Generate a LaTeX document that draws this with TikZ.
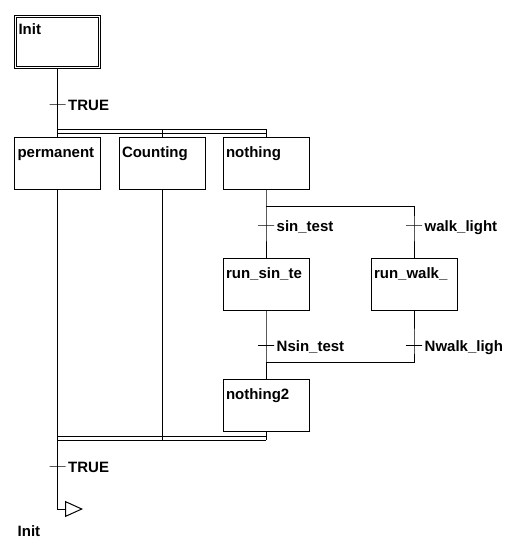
\documentclass[tikz,border=0pt]{standalone}
\usepackage{fontspec}
\setmainfont{Liberation Sans}
\usetikzlibrary{arrows.meta}
\newcommand{\sfcfont}{\fontsize{15}{18}\selectfont\bfseries}
\tikzstyle{sfcstep}=[
    rectangle,
    draw=black,
    line width=1pt,
    inner xsep=3pt,
    inner ysep=0pt,
    text width=80pt,
    align=left,
    text height=19.5pt,
    text depth=32.5pt,
    font=\sfcfont]
\tikzstyle{initstep}=[
    sfcstep,
    double,
    double distance=1pt,
    text width=78pt,
    text height=17.5pt,
    text depth=33.5pt]
\tikzstyle{trans}=[
    rectangle,
    draw=black,
    line width=1pt,
    minimum width=16pt,
    minimum height=0pt,
    inner sep=0pt]
\tikzstyle{translabel}=[
    anchor=base west,
    inner sep=0pt,
    xshift=2pt,
    yshift=-6pt,
    font=\sfcfont]
\tikzstyle{link}=[draw=black, line width=1pt]

\begin{document}
\begin{tikzpicture}[x=1pt,y=-1pt]
\useasboundingbox (0,0) rectangle (527,555);

%Shape: Steps
\node[initstep] (init) at (57.5,42.4) {Init};
\node[sfcstep] (perm) at (57.5,163.5) {permanent};
\node[sfcstep] (count) at (162,163.5) {Counting};
\node[sfcstep] (noth) at (266,163.5) {nothing};
\node[sfcstep] (rsin) at (266,284.5) {run\_sin\_te};
\node[sfcstep] (rwalk) at (414,284.5) {run\_walk\_};
\node[sfcstep] (noth2) at (266,405.5) {nothing2};

%Shape: Transitions
\node[trans, label={[translabel]east:TRUE}] (t1) at (57.5,104) {};
\node[trans, label={[translabel]east:sin\_test}] (t2) at (266,225) {};
\node[trans, label={[translabel]east:walk\_light}] (t3) at (414,225) {};
\node[trans, label={[translabel]east:Nsin\_test}] (t4) at (266,345.7) {};
\node[trans, label={[translabel]east:Nwalk\_ligh}] (t5) at (414,345.7) {};
\node[trans, label={[translabel]east:TRUE}] (t6) at (57.5,466) {};

%Coordinates: branches
\coordinate (sa) at (57.5,129.3);
\coordinate (sb) at (57.5,133);
\coordinate (sel1) at (266,206.5);
\coordinate (sel2) at (414,206.5);
\coordinate (join1) at (266,362.7);
\coordinate (join2) at (414,362.7);
\coordinate (ja) at (57.5,436.8);
\coordinate (jb) at (57.5,440.4);
\coordinate (jmp) at (57.5,509);
\coordinate (jtip) at (83,509);

%Straight Lines: simultaneous divergence
\draw[link] (init) -- (t1.center) -- (perm);
\draw[link] (sa) -- (sa -| noth);
\draw[link] (sb) -- (sb -| noth);
\draw[link] (sa -| count) -- (count);
\draw[link] (sa -| noth) -- (noth);

%Straight Lines: selection
\draw[link] (noth) -- (t2.center) -- (rsin);
\draw[link] (sel1) -- (sel2) -- (t3.center) -- (rwalk);
\draw[link] (rsin) -- (t4.center) -- (noth2);
\draw[link] (rwalk) -- (t5.center) -- (join2) -- (join1);

%Straight Lines: simultaneous convergence
\draw[link] (ja) -- (ja -| noth2);
\draw[link] (jb) -- (jb -| noth2);
\draw[link] (noth2) -- (jb -| noth2);
\draw[link] (count) -- (jb -| count);

%Jump
\draw[link, -{Triangle[open, length=18pt, width=16pt]}] (perm) -- (t6.center) -- (jmp) -- (jtip);

% Text Node
\node[anchor=base west, inner sep=0pt, font=\sfcfont] (jlabel) at (17.5,536) {Init};

\end{tikzpicture}
\end{document}
